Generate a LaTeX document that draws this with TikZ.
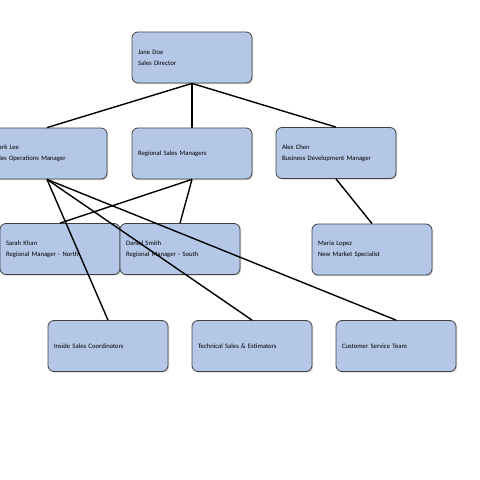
\documentclass[tikz,border=0pt]{standalone}
\usepackage{fontspec}
\setmainfont{Carlito}
\usetikzlibrary{shadows}
\tikzset{
  box/.style={rectangle, rounded corners=6pt, draw=black!75, line width=0.8pt,
    fill=boxblue, minimum width=120pt, minimum height=51pt, text width=108pt,
    inner xsep=6pt, inner ysep=0pt, align=left, font=\fontsize{6.7}{11}\selectfont,
    drop shadow={shadow xshift=1pt, shadow yshift=-1.2pt, opacity=0.35}},
  link/.style={draw=black, line width=1.4pt}
}
\definecolor{boxblue}{HTML}{B4C7E7}
\begin{document}
\begin{tikzpicture}[x=1pt,y=-1pt]
\useasboundingbox (0,0) rectangle (480,480);
\clip (0,0) rectangle (480,480);
\node[box] (jane) at (192,57.5) {Jane Doe\\Sales Director};
\node[box] (mark) at (47,153.5) {Mark Lee\\Sales Operations Manager};
\node[box] (reg) at (192,153.5) {Regional Sales Managers};
\node[box] (alex) at (336,153) {Alex Chen\\Business Development Manager};
\node[box] (sarah) at (60,249) {Sarah Khan\\Regional Manager - North};
\node[box] (daniel) at (180,249) {Daniel Smith\\Regional Manager - South};
\node[box] (maria) at (372,249.5) {Maria Lopez\\New Market Specialist};
\node[box] (inside) at (108,346) {Inside Sales Coordinators};
\node[box] (tech) at (252,346) {Technical Sales \& Estimators};
\node[box] (cust) at (396,346) {Customer Service Team};
\draw[link] (jane.south) -- (mark.north);
\draw[link] (jane.south) -- (reg.north);
\draw[link] (jane.south) -- (alex.north);
\draw[link] (alex.south) -- (maria.north);
\draw[link] (reg.south) -- (sarah.north);
\draw[link] (reg.south) -- (daniel.north);
\draw[link] (mark.south) -- (inside.north);
\draw[link] (mark.south) -- (tech.north);
\draw[link] (mark.south) -- (cust.north);
\end{tikzpicture}
\end{document}
